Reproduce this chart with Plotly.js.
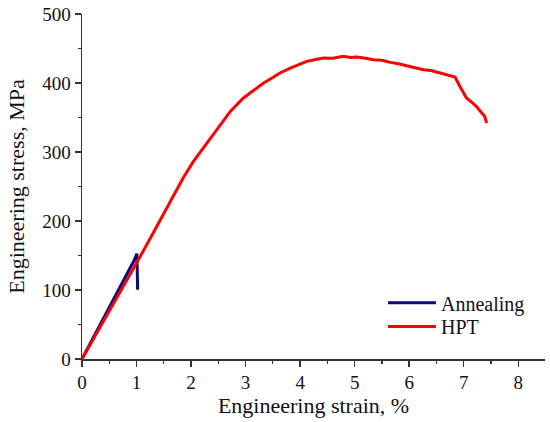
<!DOCTYPE html>
<html>
<head>
<meta charset="utf-8">
<script src="https://cdn.plot.ly/plotly-3.0.1.min.js"></script>
<style>html,body{margin:0;padding:0;background:#fff;}#chart{width:550px;height:422px;}</style>
</head>
<body>
<div id="chart"></div>
<script>
// Annealing sample
var annealStrain = [0, 0.2, 0.4, 0.58, 0.76, 0.885, 0.95, 1.007, 1.012, 1.02];
var annealStress = [0, 30, 60, 86, 115, 132, 142, 152.6, 130, 100.4];

// HPT sample
var hptStrain = [0, 0.5, 1.0, 1.3, 1.5, 1.68, 1.86, 2.04, 2.29, 2.47, 2.72, 2.96, 3.15, 3.33, 3.5, 3.63, 3.82, 3.97, 4.12, 4.28, 4.43, 4.6, 4.79, 4.92, 5.04, 5.2, 5.34, 5.5, 5.65, 5.8, 5.95, 6.1, 6.26, 6.4, 6.56, 6.7, 6.84, 6.93, 7.05, 7.15, 7.23, 7.33, 7.38, 7.42];
var hptStress = [0, 69, 139, 182, 211, 238, 263, 286, 313, 332, 358.9, 378.3, 390, 400, 408, 414.5, 421.7, 426.5, 431.3, 434, 436.2, 436, 438.6, 437, 437.7, 436, 433.8, 433, 429.9, 428, 425.1, 423, 419.3, 418, 414.5, 412, 408.7, 395, 378.3, 372, 366.1, 356.5, 352, 342];

var legendNames = ['Annealing', 'HPT'];

var traces = [
  {x: annealStrain, y: annealStress, type: 'scatter', mode: 'lines', name: legendNames[0],
   line: {color: '#0a0a7e', width: 3}, legend: 'legend'},
  {x: hptStrain, y: hptStress, type: 'scatter', mode: 'lines', name: legendNames[1],
   line: {color: '#ff0000', width: 3}, legend: 'legend2'}
];

var fontFam = 'Liberation Serif';
var txt = '#111';

function legendBox(yPos) {
  return {x: 0.65, y: yPos, xanchor: 'left', yanchor: 'middle', bgcolor: 'rgba(0,0,0,0)',
          font: {family: fontFam, size: 20, color: txt}, itemwidth: 48};
}

var layout = {
  width: 550, height: 422,
  margin: {l: 82, r: 5, t: 14, b: 63},
  paper_bgcolor: '#fff', plot_bgcolor: '#fff',
  font: {family: fontFam, color: txt, size: 20},
  showlegend: true,
  legend: legendBox(0.163),
  legend2: legendBox(0.094),
  xaxis: {
    range: [0, 8.49], showgrid: false, zeroline: false,
    showline: true, linecolor: '#333', linewidth: 1.5,
    ticks: 'outside', tickcolor: '#333', ticklen: 6, tickwidth: 1.5,
    dtick: 1, tick0: 0,
    minor: {dtick: 0.5, ticks: 'outside', ticklen: 3, tickcolor: '#333', tickwidth: 1.2},
    tickfont: {family: fontFam, size: 19, color: txt},
    title: {text: 'Engineering strain, %', font: {family: fontFam, size: 22, color: txt}, standoff: 5}
  },
  yaxis: {
    range: [0, 500], showgrid: false, zeroline: false,
    showline: true, linecolor: '#333', linewidth: 1.5,
    ticks: 'outside', tickcolor: '#333', ticklen: 6, tickwidth: 1.5,
    dtick: 100, tick0: 0,
    minor: {dtick: 50, ticks: 'outside', ticklen: 3, tickcolor: '#333', tickwidth: 1.2},
    tickfont: {family: fontFam, size: 19, color: txt},
    title: {text: 'Engineering stress, MPa', font: {family: fontFam, size: 22, color: txt}, standoff: 11}
  }
};

Plotly.newPlot('chart', traces, layout, {displayModeBar: false, staticPlot: true});
</script>
</body>
</html>
